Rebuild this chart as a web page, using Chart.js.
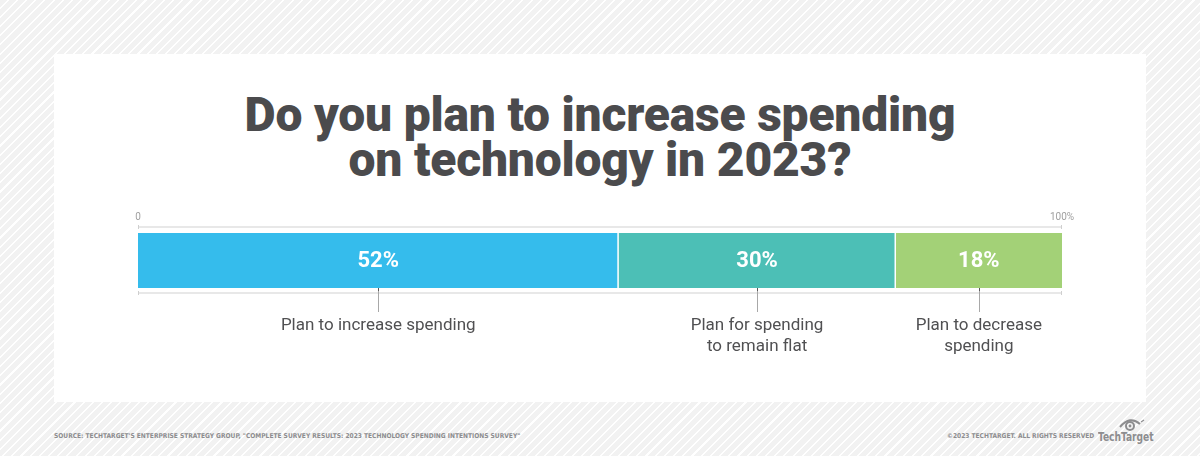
<!DOCTYPE html>
<html>
<head>
<meta charset="utf-8">
<script src="https://cdn.jsdelivr.net/npm/chart.js@4.4.1/dist/chart.umd.min.js"></script>
<style>
  body {
    margin: 0;
    width: 1200px;
    height: 456px;
    overflow: hidden;
    position: relative;
    background: repeating-linear-gradient(135deg, #f2f2f2 0px, #f2f2f2 5px, #ffffff 5px, #ffffff 6.5px);
    font-family: Roboto, "Noto Sans", sans-serif;
  }
  #panel {
    position: absolute;
    left: 54px; top: 54px;
    width: 1092px; height: 348px;
    background: #fff;
  }
  #title {
    position: absolute;
    left: 0; top: 92px; width: 1200px;
    text-align: center;
    font-weight: 900;
    font-size: 48px;
    line-height: 45px;
    color: #4b4b4d;
    letter-spacing: -0.2px;
  }
  #chartBox {
    position: absolute;
    left: 54px; top: 195px;
  }
  .foot {
    position: absolute;
    top: 432px;
    font-family: "Liberation Sans Narrow", "DejaVu Sans Condensed", sans-serif;
    font-weight: bold;
    font-size: 6.6px;
    color: #8d8d8f;
    white-space: nowrap;
  }
  #logo {
    position: absolute;
    left: 1097px; top: 416px;
    width: 50px; height: 28px;
  }
  #logoText {
    position: absolute;
    left: 1px; bottom: 0;
    font-family: "Liberation Sans Narrow", "DejaVu Sans Condensed", sans-serif;
    font-weight: bold;
    font-size: 13px;
    color: #8d8d8f;
    transform: scaleX(0.78);
    transform-origin: left bottom;
    white-space: nowrap;
  }
</style>
</head>
<body>
<div id="panel"></div>
<div id="title">Do you plan to increase spending<br>on technology in 2023?</div>
<div id="chartBox"><canvas id="spendChart" width="1092" height="170"></canvas></div>
<div class="foot" style="left:54px">SOURCE: TECHTARGET'S ENTERPRISE STRATEGY GROUP, "COMPLETE SURVEY RESULTS: 2023 TECHNOLOGY SPENDING INTENTIONS SURVEY"</div>
<div class="foot" style="left:947px">©2023 TECHTARGET. ALL RIGHTS RESERVED</div>
<div id="logo">
  <svg width="50" height="18" style="position:absolute;left:0;top:0">
    <path d="M23 11 Q33 -1 43 8" stroke="#8d8d8f" stroke-width="2" fill="none"/>
    <circle cx="33" cy="10" r="4" stroke="#8d8d8f" stroke-width="2" fill="none"/>
    <circle cx="33" cy="10" r="1.4" fill="#8d8d8f"/>
    <path d="M44 6 L47 4" stroke="#8d8d8f" stroke-width="1.2"/>
  </svg>
  <div id="logoText">TechTarget</div>
</div>
<script>
// data
const categories = ["Spending plans"];
const segmentLabels = ["Plan to increase spending", "Plan for spending\nto remain flat", "Plan to decrease\nspending"];
const shares = [52, 30, 18];
const axisTicks = [0, 100];
const segmentColors = ["#35bcec", "#4cbfb6", "#a3d177"];

// lines above/below the bar, percentages, leader lines and captions
const barDecor = {
    id: "barDecor",
    afterDatasetsDraw(chart) {
        const ctx = chart.ctx;
        const area = chart.chartArea;
        const xs = chart.scales.x;
        ctx.save();
        // thin rules above and below the bar
        [area.top - 6, area.bottom + 5].forEach(function (y) {
            ctx.strokeStyle = "#e1e1e1";
            ctx.lineWidth = 1.5;
            ctx.beginPath();
            ctx.moveTo(xs.left, y);
            ctx.lineTo(xs.right, y);
            ctx.stroke();
            ctx.strokeStyle = "#cfcfcf";
            ctx.lineWidth = 1;
            [xs.left + 0.5, xs.right - 0.5].forEach(function (x) {
                ctx.beginPath();
                ctx.moveTo(x, y - 2);
                ctx.lineTo(x, y + 2);
                ctx.stroke();
            });
        });
        chart.data.datasets.forEach(function (ds, i) {
            const bar = chart.getDatasetMeta(i).data[0];
            const p = bar.getProps(["x", "y", "base"], true);
            const cx = (p.x + p.base) / 2;
            // value
            ctx.fillStyle = "#ffffff";
            ctx.font = "bold 22px Roboto";
            ctx.textAlign = "center";
            ctx.textBaseline = "middle";
            ctx.fillText(ds.data[0] + "%", cx, p.y + 1);
            // leader line
            const lx = Math.round(cx) + 0.5;
            ctx.strokeStyle = "#5a5a5a";
            ctx.lineWidth = 1;
            ctx.beginPath();
            ctx.moveTo(lx, area.bottom);
            ctx.lineTo(lx, area.bottom + 3);
            ctx.stroke();
            ctx.strokeStyle = "#a8a8a8";
            ctx.beginPath();
            ctx.moveTo(lx, area.bottom + 3);
            ctx.lineTo(lx, area.bottom + 24);
            ctx.stroke();
            // caption
            ctx.fillStyle = "#505052";
            ctx.font = "17px Roboto";
            ds.label.split("\n").forEach(function (line, k) {
                ctx.fillText(line, cx, area.bottom + 38 + k * 21);
            });
        });
        ctx.restore();
    }
};

const datasets = shares.map(function (v, i) {
    return {
        label: segmentLabels[i],
        data: [v],
        backgroundColor: segmentColors[i],
        borderColor: "#ffffff",
        borderWidth: i < shares.length - 1 ? {top: 0, bottom: 0, left: 0, right: 1.5} : 0,
        borderSkipped: false,
        barPercentage: 1,
        categoryPercentage: 1
    };
});

const spendChart = new Chart(document.getElementById("spendChart"), {
    type: "bar",
    data: {labels: categories, datasets: datasets},
    options: {
        indexAxis: "y",
        responsive: false,
        animation: false,
        layout: {padding: {left: 84, right: 84, top: 6, bottom: 77}},
        scales: {
            x: {
                type: "linear",
                position: "top",
                stacked: true,
                min: 0,
                max: 100,
                grid: {display: false, drawTicks: false},
                border: {display: false},
                afterBuildTicks: function (scale) {
                    scale.ticks = axisTicks.map(function (v) { return {value: v}; });
                },
                ticks: {
                    autoSkip: false,
                    maxRotation: 0,
                    padding: 10,
                    color: "#a0a0a0",
                    font: {size: 10, family: "Roboto"},
                    callback: function (v) { return v === 100 ? "100%" : String(v); }
                }
            },
            y: {stacked: true, display: false}
        },
        plugins: {
            legend: {display: false},
            tooltip: {enabled: false}
        }
    },
    plugins: [barDecor]
});
</script>
</body>
</html>
